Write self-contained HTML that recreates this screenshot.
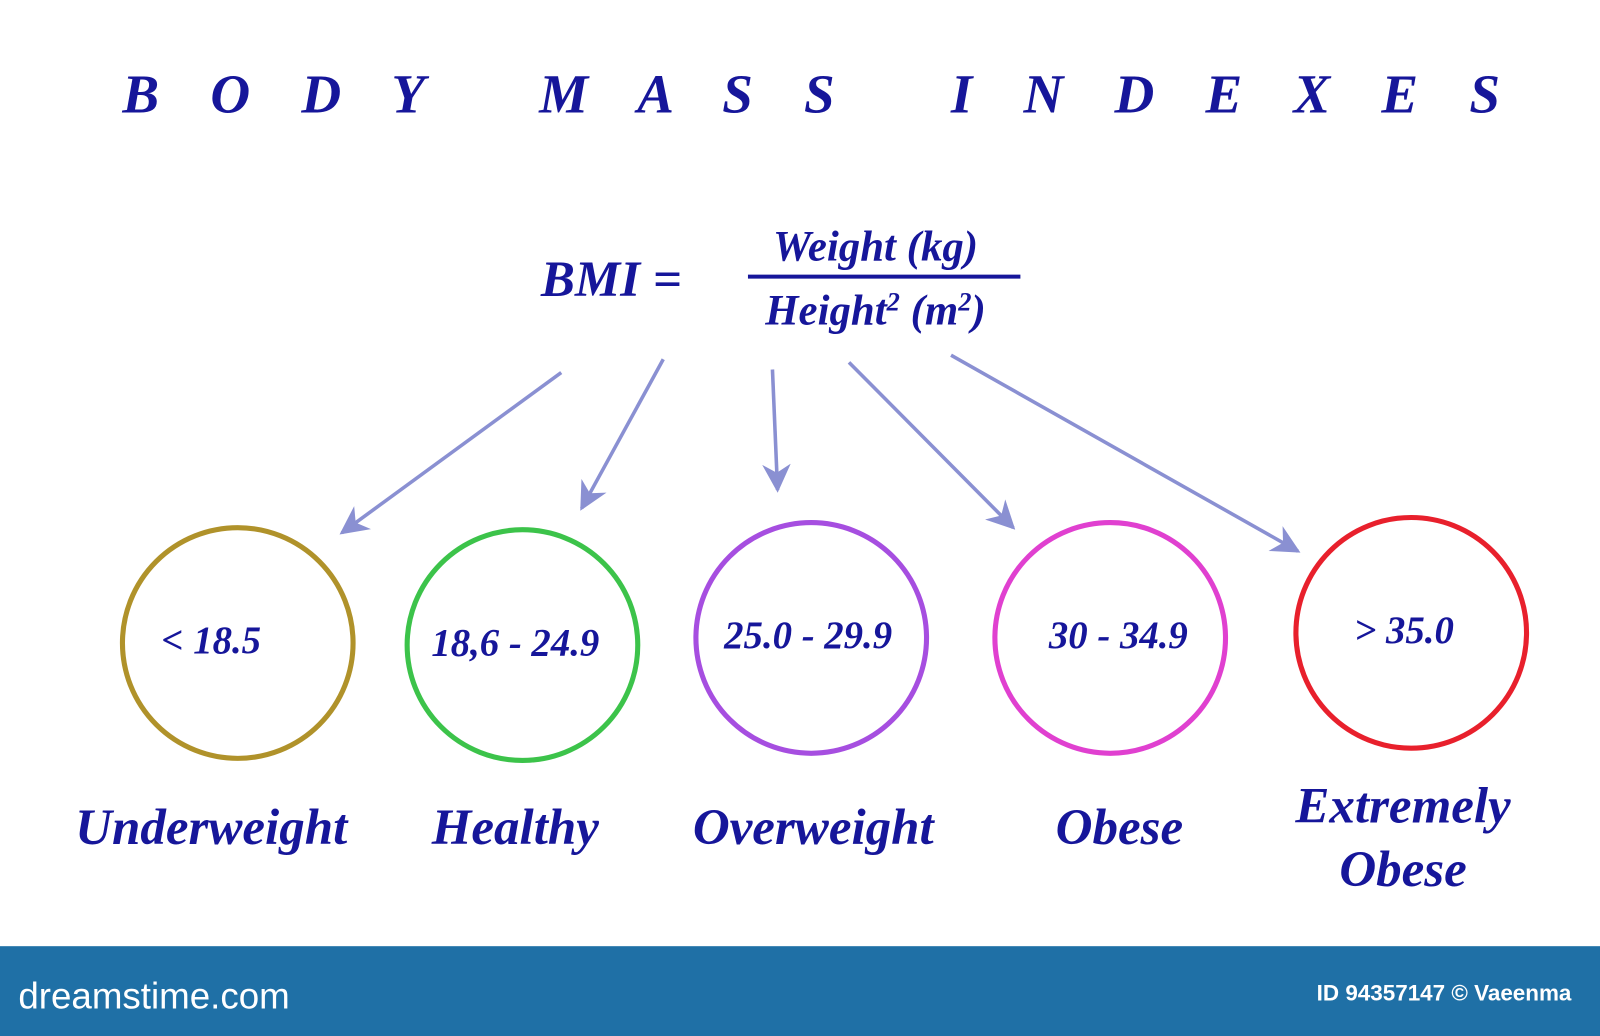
<!DOCTYPE html>
<html><head><meta charset="utf-8"><style>
html,body{margin:0;padding:0;background:#fff;}
svg{display:block;}
text{font-family:"Liberation Serif",serif;font-style:italic;font-weight:bold;fill:#16169a;}
</style></head><body>
<svg id="chart" width="1600" height="1036" viewBox="0 0 1568 1015" preserveAspectRatio="none" xmlns="http://www.w3.org/2000/svg">
<defs><marker id="ah" viewBox="0 0 10 10" refX="9" refY="5" markerWidth="8" markerHeight="8" orient="auto"><path d="M0,0 L10,5 L0,10 L3,5 z" fill="#8a90d2"/></marker></defs>
<rect width="1568" height="1015" fill="#fff"/>
<text x="120" y="110" font-size="54" font-weight="normal" textLength="1350" lengthAdjust="spacing">B O D Y &#160; M A S S &#160; I N D E X E S</text>
<text x="530" y="290" font-size="50">BMI =</text>
<text x="858" y="255" font-size="42" text-anchor="middle">Weight (kg)</text>
<line x1="733" y1="271" x2="1000" y2="271" stroke="#16169a" stroke-width="4"/>
<text x="858" y="318" font-size="42" text-anchor="middle">Height<tspan font-size="26" dy="-14">2</tspan><tspan dy="14"> (m</tspan><tspan font-size="26" dy="-14">2</tspan><tspan dy="14">)</tspan></text>
<g id="marks"></g>
<rect x="0" y="927" width="1568" height="88" fill="#1f70a6"/>
<text x="18" y="988" font-size="36" style="font-family:'Liberation Sans',sans-serif;font-style:normal;fill:#fff;font-weight:normal">dreamstime.com</text>
<text x="1540" y="980" font-size="22" text-anchor="end" style="font-family:'Liberation Sans',sans-serif;font-style:normal;fill:#fff">ID 94357147 © Vaeenma</text>
</svg>
<script>
const categories = ["Underweight","Healthy","Overweight","Obese","Extremely|Obese"];
const ranges = ["< 18.5","18,6 - 24.9","25.0 - 29.9","30 - 34.9","> 35.0"];
const colors = ["#b0922a","#3cc34a","#a64ee0","#e040d0","#e8202c"];
const centersX = [233,512,795,1088,1383];
const centersY = [630,632,625,625,620];
const labelShift = [-26,-7,2,9,-8];
const rangeShift = [-26,-7,-3,8,-7];
const arrowStart = [[550,365],[650,352],[757,362],[832,355],[932,348]];
const arrowEnd = [[335,522],[570,498],[762,480],[993,517],[1272,540]];
const NS="http://www.w3.org/2000/svg";
const g=document.getElementById('marks');
function mk(t,a){const e=document.createElementNS(NS,t);for(const k in a)e.setAttribute(k,a[k]);g.appendChild(e);return e;}
categories.forEach((c,i)=>{
  const a=mk('line',{x1:arrowStart[i][0],y1:arrowStart[i][1],x2:arrowEnd[i][0],y2:arrowEnd[i][1],stroke:'#8a90d2','stroke-width':3.5,'marker-end':'url(#ah)'});
  
  
  const ci=mk('circle',{cx:centersX[i],cy:centersY[i],r:113,fill:'none',stroke:colors[i],'stroke-width':5});
  
  
  const r=mk('text',{x:centersX[i]+rangeShift[i],y:centersY[i]+10,'font-size':38,'text-anchor':'middle'});
  r.textContent=ranges[i];
  
  
  const parts=c.split('|');
  parts.forEach((p,j)=>{
    const y = parts.length>1 ? 806+j*62 : 827;
    const t=mk('text',{x:centersX[i]+labelShift[i],y:y,'font-size':50,'text-anchor':'middle'});
    t.textContent=p;
    
    
  });
});
</script>
</body></html>
